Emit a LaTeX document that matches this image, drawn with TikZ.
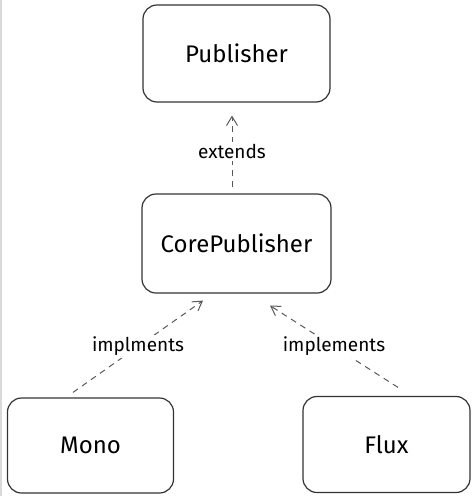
\documentclass[tikz,border=0pt]{standalone}
\usepackage{fontspec}
\setmainfont{Fira Sans}
\usetikzlibrary{arrows.meta,positioning}

\begin{document}
\begin{tikzpicture}[x=1pt,y=-1pt,on grid,
		box/.style={draw=black!80,line width=1.2pt,rounded corners=14pt,minimum width=187pt,minimum height=97pt,font=\fontsize{24}{28}\selectfont},
		rel/.style={draw=black!65,line width=1pt,dash pattern=on 6pt off 5pt,-{Straight Barb[length=9pt,width=11pt]}},
		lbl/.style={fill=white,inner sep=2pt,font=\fontsize{19}{22}\selectfont}]
		\useasboundingbox (0,0) rectangle (474,496);
		\fill[black!15] (0,0) rectangle (2,496);

		\node[box] (pub) at (236.5,53.5) {Publisher};
		\node[box,minimum width=189pt,minimum height=99pt] (core) [below=190pt of pub] {CorePublisher};

		\node[box,minimum width=166pt,minimum height=95pt] (mono) [below left=202pt and 146pt of core] {Mono};
		\node[box,minimum width=167pt,minimum height=96pt] (flux) [below right=201pt and 150pt of core] {Flux};

		\path
		([xshift=-4.5pt,yshift=6pt]core.north) edge[rel] node[lbl] {extends} ([xshift=-4.5pt,yshift=-13pt]pub.south)

		([xshift=-17.5pt,yshift=5pt]mono.north) edge[rel] node[lbl] {implments} ([xshift=-33.5pt,yshift=-7pt]core.south)

		([xshift=11.5pt,yshift=8.5pt]flux.north) edge[rel] node[lbl] {implements} ([xshift=33.5pt,yshift=-12pt]core.south);
	\end{tikzpicture}
\end{document}
